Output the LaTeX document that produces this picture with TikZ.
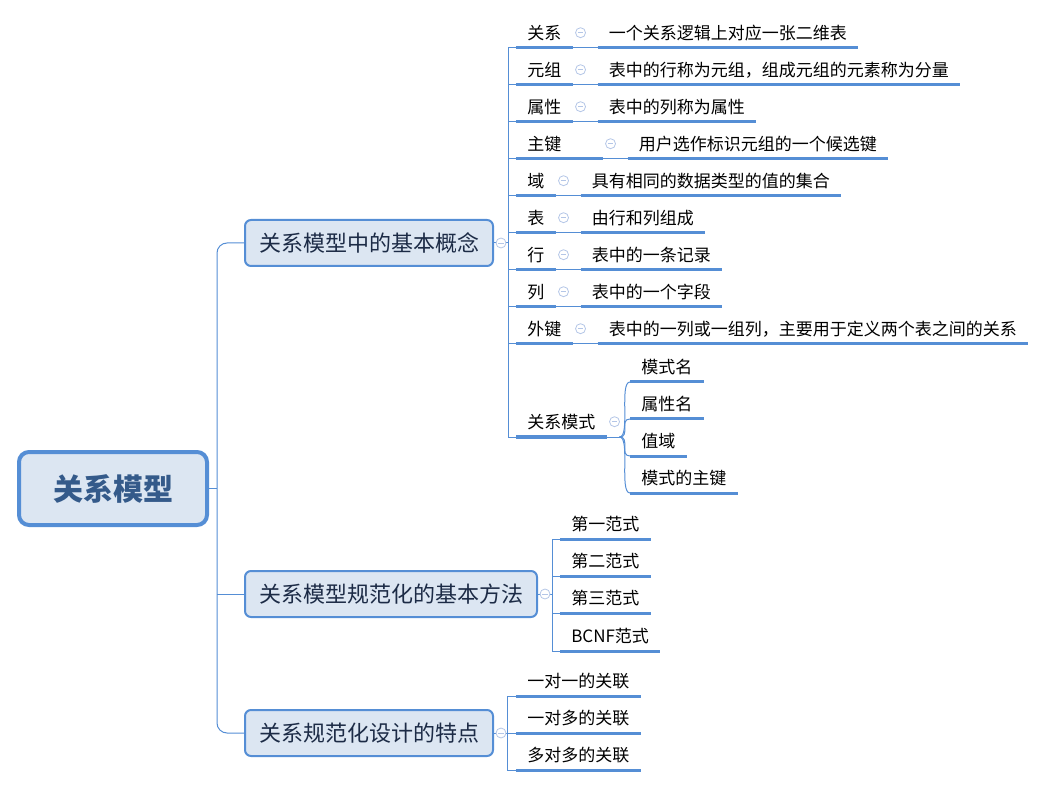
\documentclass[tikz,border=0pt]{standalone}
\usepackage{fontspec}
\setmainfont{Noto Sans CJK SC}
\usetikzlibrary{calc}
\definecolor{lineblue}{HTML}{558ED5}
\definecolor{boxfill}{HTML}{DCE6F2}
\definecolor{roottext}{HTML}{345A8A}
\definecolor{lvltext}{HTML}{1C2B46}
\definecolor{foldc}{HTML}{B4C6E7}
\begin{document}
\begin{tikzpicture}[x=0.75pt,y=-0.75pt,
  conn/.style={draw=lineblue, line width=0.75pt},
  uline/.style={draw=lineblue, line width=2.25pt},
  rootbox/.style={draw=lineblue, line width=3pt, fill=boxfill, rounded corners=7.5pt,
    minimum width=141pt, minimum height=54.75pt, inner sep=0pt,
    font=\fontsize{22.5pt}{26pt}\selectfont\bfseries, text=roottext},
  lvlbox/.style={draw=lineblue, line width=1.5pt, fill=boxfill, rounded corners=4.5pt,
    minimum height=34.5pt, inner xsep=10.5pt, inner ysep=0pt, anchor=west,
    font=\fontsize{16.5pt}{19pt}\selectfont, text=lvltext},
  lbl/.style={font=\fontsize{12.75pt}{15pt}\selectfont, text height=11.2pt, text depth=1.55pt,
    inner xsep=8.25pt, inner ysep=4.9pt, anchor=south west, text=black},
  fold/.style={circle, draw=foldc, fill=white, line width=0.6pt, minimum size=7.5pt, inner sep=0pt,
    path picture={\draw[foldc, line width=0.6pt]
      ([xshift=-2pt]path picture bounding box.center) -- ([xshift=2pt]path picture bounding box.center);}}
]
\useasboundingbox (0,0) rectangle (1045,787);

% root and level-1 boxes
\node[rootbox] (r) at (113,488.5) {关系模型};
\node[lvlbox] (b1) at (244,243) {关系模型中的基本概念};
\node[lvlbox] (b2) at (244,594) {关系模型规范化的基本方法};
\node[lvlbox] (b3) at (244,733) {关系规范化设计的特点};

\coordinate (tk) at (217,488.5);
\draw[conn] (r.east) -- (tk);
\draw[conn, rounded corners=7.5pt] (b1.west) -| (tk) |- (b3.west);
\draw[conn] (tk |- b2.west) -- (b2.west);

% branch 1 labels
\node[lbl] (k1) at (516,48) {关系};
\node[lbl] (k2) at (516,85) {元组};
\node[lbl] (k3) at (516,122) {属性};
\node[lbl, align=left, text width=48pt] (k4) at (516,159) {主键};
\node[lbl] (k5) at (516,196) {域};
\node[lbl] (k6) at (516,233) {表};
\node[lbl] (k7) at (516,270) {行};
\node[lbl] (k8) at (516,307) {列};
\node[lbl] (k9) at (516,344) {外键};
\node[lbl] (k10) at (516,437) {关系模式};

\node[lbl] (d1) at ($(k1.south east)+(25,0)$) {一个关系逻辑上对应一张二维表};
\node[lbl] (d2) at ($(k2.south east)+(25,0)$) {表中的行称为元组，组成元组的元素称为分量};
\node[lbl] (d3) at ($(k3.south east)+(25,0)$) {表中的列称为属性};
\node[lbl] (d4) at ($(k4.south east)+(25,0)$) {用户选作标识元组的一个候选键};
\node[lbl] (d5) at ($(k5.south east)+(25,0)$) {具有相同的数据类型的值的集合};
\node[lbl] (d6) at ($(k6.south east)+(25,0)$) {由行和列组成};
\node[lbl] (d7) at ($(k7.south east)+(25,0)$) {表中的一条记录};
\node[lbl] (d8) at ($(k8.south east)+(25,0)$) {表中的一个字段};
\node[lbl] (d9) at ($(k9.south east)+(25,0)$) {表中的一列或一组列，主要用于定义两个表之间的关系};

\node[lbl] (s1) at (630,382) {模式名};
\node[lbl] (s2) at (630,419) {属性名};
\node[lbl] (s3) at (630,456) {值域};
\node[lbl] (s4) at (630,493) {模式的主键};

% branch 2 labels
\node[lbl] (m1) at (560,539) {第一范式};
\node[lbl] (m2) at (560,576) {第二范式};
\node[lbl] (m3) at (560,613) {第三范式};
\node[lbl] (m4) at (560,651) {BCNF范式};

% branch 3 labels
\node[lbl] (n1) at (516,696) {一对一的关联};
\node[lbl] (n2) at (516,733) {一对多的关联};
\node[lbl] (n3) at (516,770) {多对多的关联};

% connectors branch 1
\coordinate (t1) at ($(b1.east)+(14,0)$);
\draw[conn] (b1.east) -- (t1);
\foreach \k in {k1,k2,k3,k4,k5,k6,k7,k8,k9,k10}
  \draw[conn] (t1) |- (\k.south west);
\foreach \k/\d in {k1/d1,k2/d2,k3/d3,k4/d4,k5/d5,k6/d6,k7/d7,k8/d8,k9/d9}
  \draw[conn] (\k.south east) -- (\d.south west);
\coordinate (sj) at ($(k10.south east)+(13,0)$);
\draw[conn] (k10.south east) -- (sj);
\foreach \s in {s1,s2,s3,s4}
  \draw[conn] (sj) .. controls +(11,0) and +(-11,0) .. (\s.south west);

% connectors branch 2
\coordinate (t2) at ($(b2.east)+(14,0)$);
\draw[conn] (b2.east) -- (t2);
\foreach \k in {m1,m2,m3,m4}
  \draw[conn] (t2) |- (\k.south west);

% connectors branch 3
\coordinate (t3) at ($(b3.east)+(13,0)$);
\draw[conn] (b3.east) -- (t3);
\foreach \k in {n1,n2,n3}
  \draw[conn] (t3) |- (\k.south west);

% underlines
\foreach \n in {k1,k2,k3,k4,k5,k6,k7,k8,k9,k10,d1,d2,d3,d4,d5,d6,d7,d8,d9,s1,s2,s3,s4,m1,m2,m3,m4,n1,n2,n3}
  \draw[uline] (\n.south west) -- (\n.south east);

% fold markers
\node[fold] (f1) at ($(b1.east)+(7,0)$) {};
\node[fold] (f2) at ($(b2.east)+(7,0)$) {};
\node[fold] (f3) at ($(b3.east)+(7,0)$) {};
\foreach \k in {k1,k2,k3,k4,k5,k6,k7,k8,k9,k10}
  \node[fold] (f\k) at ($(\k.east)+(8,0)$) {};
\end{tikzpicture}
\end{document}
